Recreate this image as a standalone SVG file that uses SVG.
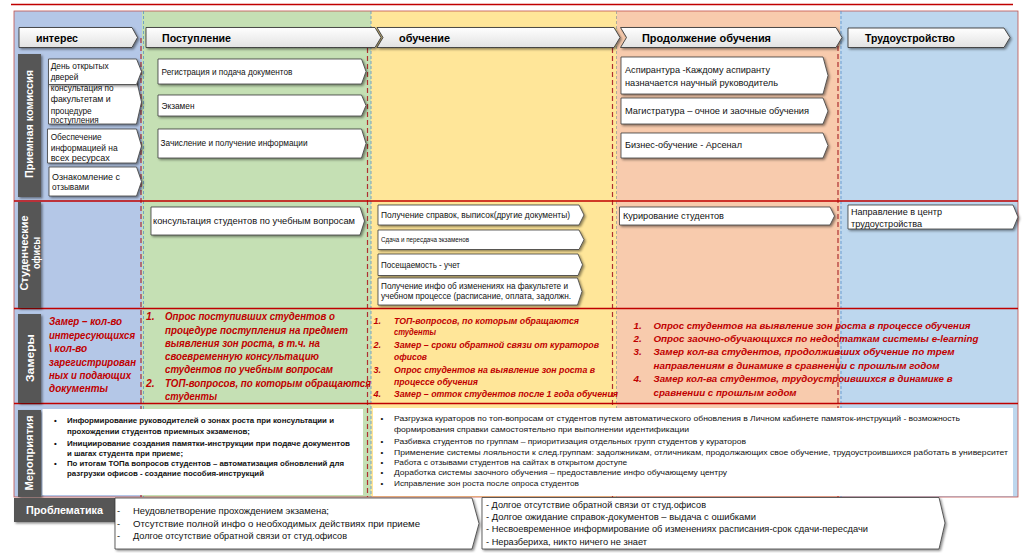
<svg xmlns="http://www.w3.org/2000/svg" width="1024" height="553" viewBox="0 0 1024 553">
<defs>
<style>
text{font-family:"Liberation Sans",Arial,sans-serif;fill:#111}
.hdr{font-weight:bold;font-size:11px;fill:#000}
.lbl{font-weight:bold;fill:#fff;text-anchor:middle}
.t1{font-size:8.3px}
.t4{font-size:9.2px}
.t2{font-size:9px}
.red{font-weight:bold;font-style:italic;fill:#C00000}
.m{font-size:8px}
.mb{font-size:7.8px;font-weight:bold}
.p1{font-size:9.3px}
.p2{font-size:8.8px}
.box{fill:#fff;stroke:#3a3a3a;stroke-width:0.8}
.hbox{fill:url(#hg);stroke:#3a3a3a;stroke-width:0.9}
.bar{fill:#575757}
.sep{stroke:#C00000;stroke-width:1.5}
.rd{stroke:#B03030;stroke-width:1.2;stroke-dasharray:5 3;fill:none}
.bd{stroke:#5B8FC8;stroke-width:0.8;stroke-dasharray:3 2;fill:none}
</style>
<filter id="sh" x="-10%" y="-20%" width="125%" height="160%"><feDropShadow dx="1.5" dy="1.5" stdDeviation="0.9" flood-color="#000" flood-opacity="0.45"/></filter>
<linearGradient id="hg" x1="0" y1="0" x2="0" y2="1"><stop offset="0" stop-color="#ffffff"/><stop offset="1" stop-color="#e2e2e2"/></linearGradient>
</defs>
<rect width="1024" height="553" fill="#fff"/>
<line x1="11" y1="4.5" x2="1013" y2="4.5" stroke="#C00000" stroke-width="1.5"/>

<g id="columns">
<rect x="14" y="11" width="128" height="486" fill="#B4C7E7"/>
<rect x="142" y="11" width="229" height="486" fill="#C5E0B4"/>
<rect x="371" y="11" width="246" height="486" fill="#FFE699"/>
<rect x="617" y="11" width="223" height="486" fill="#F8CBAD"/>
<rect x="840" y="11" width="178" height="486" fill="#BDD7EE"/>
<rect x="14" y="11" width="1004" height="486" fill="none" stroke="#C0504D" stroke-width="0.8"/>
</g>

<g id="dividers">
<line class="bd" x1="143.5" y1="11" x2="143.5" y2="497"/>
<line class="bd" x1="371" y1="11" x2="371" y2="497"/>
<line class="bd" x1="616.5" y1="11" x2="616.5" y2="497" style="stroke:#9a9a9a"/>
<line class="bd" x1="841" y1="11" x2="841" y2="497"/>
<line class="rd" x1="141" y1="38" x2="141" y2="497"/>
<line class="rd" x1="367.5" y1="48" x2="367.5" y2="497"/>
<line class="rd" x1="612.5" y1="48" x2="612.5" y2="497"/>
<line class="rd" x1="838" y1="38" x2="838" y2="497"/>
<line class="sep" x1="14" y1="201" x2="1018" y2="201"/>
<line class="sep" x1="14" y1="308.5" x2="1018" y2="308.5"/>
<line class="sep" x1="14" y1="403.5" x2="1018" y2="403.5"/>
</g>

<g id="headers">
<g id="h-interes"><path class="hbox" filter="url(#sh)" d="M19 27.5H132L137.5 37.5L132 47.5H19Z"/><text class="hdr" x="36" y="42" textLength="42" lengthAdjust="spacingAndGlyphs">интерес</text></g>
<g id="h-postuplenie"><path class="hbox" filter="url(#sh)" d="M146 27.5H375L381 37.5L375 47.5H146Z"/><text class="hdr" x="162" y="42" textLength="69" lengthAdjust="spacingAndGlyphs">Поступление</text></g>
<g id="h-obuchenie"><path class="hbox" filter="url(#sh)" d="M377 27.5H614L620 37.5L614 47.5H377L383 37.5Z"/><text class="hdr" x="399" y="42" textLength="51" lengthAdjust="spacingAndGlyphs">обучение</text></g>
<g id="h-prodolzhenie"><path class="hbox" filter="url(#sh)" d="M620.5 27.5H836L842 37.5L836 47.5H620.5L626.5 37.5Z"/><text class="hdr" x="642" y="42" textLength="129" lengthAdjust="spacingAndGlyphs">Продолжение обучения</text></g>
<g id="h-trud"><path class="hbox" filter="url(#sh)" d="M848 28H1004L1010 37.5L1004 47.5H848Z"/><text class="hdr" x="865" y="42" textLength="90" lengthAdjust="spacingAndGlyphs">Трудоустройство</text></g>
</g>

<g id="row-labels">
<rect class="bar" filter="url(#sh)" x="18" y="54" width="23" height="143"/>
<text class="lbl" style="font-size:10.5px" transform="translate(33,124) rotate(-90)" textLength="108" lengthAdjust="spacingAndGlyphs">Приемная комиссия</text>
<rect class="bar" filter="url(#sh)" x="18" y="202" width="23" height="106"/>
<text class="lbl" style="font-size:10.6px" transform="translate(28,253) rotate(-90)" textLength="75" lengthAdjust="spacingAndGlyphs">Студенческие</text>
<text class="lbl" style="font-size:10.6px" transform="translate(40,253) rotate(-90)" textLength="32" lengthAdjust="spacingAndGlyphs">офисы</text>
<rect class="bar" filter="url(#sh)" x="18" y="314" width="23" height="89"/>
<text class="lbl" style="font-size:11.5px" transform="translate(34,358) rotate(-90)" textLength="48" lengthAdjust="spacingAndGlyphs">Замеры</text>
<rect class="bar" filter="url(#sh)" x="18" y="410" width="23" height="87"/>
<text class="lbl" style="font-size:11px" transform="translate(33,453) rotate(-90)" textLength="75" lengthAdjust="spacingAndGlyphs">Мероприятия</text>
</g>

<g id="node-konsult">
<path class="box" filter="url(#sh)" d="M48.5 80H136.5L141.5 102L136.5 124H48.5Z"/>
<text class="t1" x="50.7" y="90.5" textLength="63" lengthAdjust="spacingAndGlyphs">консультация по</text>
<text class="t1" x="50.7" y="102" textLength="60" lengthAdjust="spacingAndGlyphs">факультетам и</text>
<text class="t1" x="50.7" y="113.5" textLength="41" lengthAdjust="spacingAndGlyphs">процедуре</text>
<text class="t1" x="50.7" y="123" textLength="48" lengthAdjust="spacingAndGlyphs">поступления</text>
</g>
<g id="node-den">
<path class="box" filter="url(#sh)" d="M48.5 59H136.5L141.5 71.5L136.5 84.5H48.5Z"/>
<text class="t1" x="50.7" y="68.5" textLength="58" lengthAdjust="spacingAndGlyphs">День открытых</text>
<text class="t1" x="50.7" y="79.5">дверей</text>
</g>
<g id="node-obesp">
<path class="box" filter="url(#sh)" d="M47.5 129H136.5L141.5 146L136.5 163H47.5Z"/>
<text class="t1" x="50.7" y="139.5" textLength="51" lengthAdjust="spacingAndGlyphs">Обеспечение</text>
<text class="t1" x="50.7" y="150.5" textLength="67" lengthAdjust="spacingAndGlyphs">информацией на</text>
<text class="t1" x="50.7" y="161" textLength="59" lengthAdjust="spacingAndGlyphs">всех ресурсах</text>
</g>
<g id="node-oznak">
<path class="box" filter="url(#sh)" d="M49 167H136.5L141.5 181.5L136.5 196H49Z"/>
<text class="t1" x="52" y="179.5" textLength="68" lengthAdjust="spacingAndGlyphs">Ознакомление с</text>
<text class="t1" x="52" y="189.5" textLength="37" lengthAdjust="spacingAndGlyphs">отзывами</text>
</g>

<g id="node-reg">
<path class="box" filter="url(#sh)" d="M158 59H361.5L366 71.5L361.5 84H158Z"/>
<text class="t1" x="161.5" y="74.5" textLength="131" lengthAdjust="spacingAndGlyphs">Регистрация и подача документов</text>
</g>
<g id="node-exam">
<path class="box" filter="url(#sh)" d="M158 95H361.5L366 105.5L361.5 116H158Z"/>
<text class="t1" x="161.5" y="108.5">Экзамен</text>
</g>
<g id="node-zach">
<path class="box" filter="url(#sh)" d="M158 129H361.5L366 143.5L361.5 158H158Z"/>
<text class="t1" x="160.5" y="146" textLength="147" lengthAdjust="spacingAndGlyphs">Зачисление и получение информации</text>
</g>

<g id="node-asp">
<path class="box" filter="url(#sh)" d="M621 57H823L828 75.5L823 94H621Z"/>
<text class="t4" x="625" y="73" textLength="145" lengthAdjust="spacingAndGlyphs">Аспирантура -Каждому аспиранту</text>
<text class="t4" x="625" y="85.5" textLength="153" lengthAdjust="spacingAndGlyphs">назначается научный руководитель</text>
</g>
<g id="node-mag">
<path class="box" filter="url(#sh)" d="M621 98H823L828 111L823 124H621Z"/>
<text class="t4" x="625" y="114" textLength="184" lengthAdjust="spacingAndGlyphs">Магистратура – очное и заочные обучения</text>
</g>
<g id="node-biz">
<path class="box" filter="url(#sh)" d="M621 133H823L828 145.5L823 158H621Z"/>
<text class="t4" x="625" y="148" textLength="117" lengthAdjust="spacingAndGlyphs">Бизнес-обучение - Арсенал</text>
</g>

<g id="node-konsult2">
<path class="box" filter="url(#sh)" d="M151 207H360L364.5 221L360 235H151Z"/>
<text class="t2" x="153" y="224" textLength="202" lengthAdjust="spacingAndGlyphs">консультация студентов по учебным вопросам</text>
</g>
<g id="node-sprav">
<path class="box" filter="url(#sh)" d="M378 205H579L584 215L579 225H378Z"/>
<text class="t2" x="381" y="218" textLength="189" lengthAdjust="spacingAndGlyphs">Получение справок, выписок(другие документы)</text>
</g>
<g id="node-sdacha">
<path class="box" filter="url(#sh)" d="M378 230H579L584 239.75L579 249.5H378Z"/>
<text class="t2" style="font-size:7.4px" x="381" y="242" textLength="88" lengthAdjust="spacingAndGlyphs">Сдача и пересдача экзаменов</text>
</g>
<g id="node-poseshch">
<path class="box" filter="url(#sh)" d="M378 254H578L582.5 264.75L578 275.5H378Z"/>
<text class="t2" x="381" y="268" textLength="79" lengthAdjust="spacingAndGlyphs">Посещаемость - учет</text>
</g>
<g id="node-info">
<path class="box" filter="url(#sh)" d="M378 278H577.5L582 291.5L577.5 305H378Z"/>
<text class="t2" x="381" y="288.5" textLength="187" lengthAdjust="spacingAndGlyphs">Получение инфо об изменениях на факультете и</text>
<text class="t2" x="381" y="298.5" textLength="190" lengthAdjust="spacingAndGlyphs">учебном процессе (расписание, оплата, задолжн.</text>
</g>
<g id="node-kur">
<path class="box" filter="url(#sh)" d="M619.5 207H830L834.5 216L830 225H619.5Z"/>
<text class="t2" x="623" y="218.5" textLength="101" lengthAdjust="spacingAndGlyphs">Курирование студентов</text>
</g>
<g id="node-napr">
<path class="box" filter="url(#sh)" d="M848 205H1013L1018 217L1013 229H848Z"/>
<text class="t2" x="851" y="214.5" textLength="91" lengthAdjust="spacingAndGlyphs">Направление в центр</text>
<text class="t2" x="851" y="227" textLength="71" lengthAdjust="spacingAndGlyphs">трудоустройства</text>
</g>

<g id="zamery-1" style="font-size:10px">
<text class="red" x="49" y="325" textLength="73" lengthAdjust="spacingAndGlyphs">Замер – кол-во</text>
<text class="red" x="49" y="339" textLength="86" lengthAdjust="spacingAndGlyphs">интересующихся</text>
<text class="red" x="49" y="352">\ кол-во</text>
<text class="red" x="49" y="366" textLength="87" lengthAdjust="spacingAndGlyphs">зарегистрирован</text>
<text class="red" x="49" y="379" textLength="82" lengthAdjust="spacingAndGlyphs">ных и подающих</text>
<text class="red" x="49" y="392" textLength="59" lengthAdjust="spacingAndGlyphs">документы</text>
</g>
<g id="zamery-2" style="font-size:10.3px">
<text class="red" x="146" y="320">1.</text>
<text class="red" x="165" y="320" textLength="170" lengthAdjust="spacingAndGlyphs">Опрос поступивших студентов о</text>
<text class="red" x="165" y="333.5" textLength="183" lengthAdjust="spacingAndGlyphs">процедуре поступления на предмет</text>
<text class="red" x="165" y="347" textLength="155" lengthAdjust="spacingAndGlyphs">выявления зон роста, в т.ч. на</text>
<text class="red" x="165" y="360" textLength="154" lengthAdjust="spacingAndGlyphs">своевременную консультацию</text>
<text class="red" x="165" y="373" textLength="168" lengthAdjust="spacingAndGlyphs">студентов по учебным вопросам</text>
<text class="red" x="146" y="387">2.</text>
<text class="red" x="165" y="387" textLength="206" lengthAdjust="spacingAndGlyphs">ТОП-вопросов, по которым обращаются</text>
<text class="red" x="165" y="400" textLength="52" lengthAdjust="spacingAndGlyphs">студенты</text>
</g>
<g id="zamery-3" style="font-size:9px">
<text class="red" x="373.5" y="324">1.</text>
<text class="red" x="394" y="324" textLength="185" lengthAdjust="spacingAndGlyphs">ТОП-вопросов, по которым обращаются</text>
<text class="red" x="394" y="335" textLength="42" lengthAdjust="spacingAndGlyphs">студенты</text>
<text class="red" x="373.5" y="348">2.</text>
<text class="red" x="394" y="348" textLength="205" lengthAdjust="spacingAndGlyphs">Замер – сроки обратной связи от кураторов</text>
<text class="red" x="394" y="360" textLength="33" lengthAdjust="spacingAndGlyphs">офисов</text>
<text class="red" x="373.5" y="373">3.</text>
<text class="red" x="394" y="373" textLength="201" lengthAdjust="spacingAndGlyphs">Опрос студентов на выявление зон роста в</text>
<text class="red" x="394" y="385" textLength="84" lengthAdjust="spacingAndGlyphs">процессе обучения</text>
<text class="red" x="373.5" y="397">4.</text>
<text class="red" x="394" y="397" textLength="224" lengthAdjust="spacingAndGlyphs">Замер – отток студентов после 1 года обучения</text>
</g>
<g id="zamery-4" style="font-size:9.8px">
<text class="red" x="633.5" y="329">1.</text>
<text class="red" x="653.5" y="329" textLength="317" lengthAdjust="spacingAndGlyphs">Опрос студентов на выявление зон роста в процессе обучения</text>
<text class="red" x="633.5" y="341.5">2.</text>
<text class="red" x="653.5" y="341.5" textLength="325" lengthAdjust="spacingAndGlyphs">Опрос заочно-обучающихся по недостаткам системы e-learning</text>
<text class="red" x="633.5" y="355">3.</text>
<text class="red" x="653.5" y="355" textLength="301" lengthAdjust="spacingAndGlyphs">Замер кол-ва студентов, продолживших обучение по трем</text>
<text class="red" x="653.5" y="369" textLength="286" lengthAdjust="spacingAndGlyphs">направлениям в динамике в сравнении с прошлым годом</text>
<text class="red" x="633.5" y="382">4.</text>
<text class="red" x="653.5" y="382" textLength="299" lengthAdjust="spacingAndGlyphs">Замер кол-ва студентов, трудоустроившихся в динамике в</text>
<text class="red" x="653.5" y="395.5" textLength="143" lengthAdjust="spacingAndGlyphs">сравнении с прошлым годом</text>
</g>

<g id="meropr-1">
<rect x="42.5" y="409" width="320.5" height="86" fill="#fff"/>
<text class="mb" x="54" y="423">•</text>
<text class="mb" x="67" y="423" textLength="267" lengthAdjust="spacingAndGlyphs">Информирование руководителей о зонах роста при консультации и</text>
<text class="mb" x="67" y="434" textLength="183" lengthAdjust="spacingAndGlyphs">прохождении студентов приемных  экзаменов;</text>
<text class="mb" x="54" y="446">•</text>
<text class="mb" x="67" y="446" textLength="283" lengthAdjust="spacingAndGlyphs">Инициирование создания памятки-инструкции при подаче документов</text>
<text class="mb" x="67" y="456" textLength="116" lengthAdjust="spacingAndGlyphs">и шагах студента при приеме;</text>
<text class="mb" x="54" y="466">•</text>
<text class="mb" x="67" y="466" textLength="277" lengthAdjust="spacingAndGlyphs">По итогам ТОПа вопросов студентов – автоматизация обновлений для</text>
<text class="mb" x="67" y="476" textLength="197" lengthAdjust="spacingAndGlyphs">разгрузки офисов - создание пособия-инструкций</text>
</g>
<g id="meropr-2">
<rect x="373" y="408" width="640" height="88" fill="#fff"/>
<text class="m" x="380.5" y="421">•</text>
<text class="m" x="394" y="421" textLength="566" lengthAdjust="spacingAndGlyphs">Разгрузка кураторов по топ-вопросам от студентов путем автоматического обновления в Личном кабинете памяток-инструкций - возможность</text>
<text class="m" x="394" y="432" textLength="295" lengthAdjust="spacingAndGlyphs">формирования справки самостоятельно при выполнении идентификации</text>
<text class="m" x="380.5" y="444">•</text>
<text class="m" x="394" y="444" textLength="352" lengthAdjust="spacingAndGlyphs">Разбивка студентов по группам – приоритизация отдельных групп студентов у кураторов</text>
<text class="m" x="380.5" y="455">•</text>
<text class="m" x="394" y="455" textLength="614" lengthAdjust="spacingAndGlyphs">Применение системы лояльности к след.группам:  задолжникам,  отличникам, продолжающих свое обучение, трудоустроившихся работать в университет</text>
<text class="m" x="380.5" y="465">•</text>
<text class="m" x="394" y="465" textLength="233" lengthAdjust="spacingAndGlyphs">Работа с отзывами студентов на сайтах в открытом доступе</text>
<text class="m" x="380.5" y="475">•</text>
<text class="m" x="394" y="475" textLength="333" lengthAdjust="spacingAndGlyphs">Доработка системы заочного обучения – предоставление инфо обучающему центру</text>
<text class="m" x="380.5" y="486">•</text>
<text class="m" x="394" y="486" textLength="185" lengthAdjust="spacingAndGlyphs">Исправление зон роста после опроса студентов</text>
</g>

<g id="problem-label">
<rect class="bar" filter="url(#sh)" x="14" y="498" width="101" height="24"/>
<text class="hdr" style="fill:#fff" x="26" y="514" textLength="77" lengthAdjust="spacingAndGlyphs">Проблематика</text>
</g>
<g id="problem-1">
<path class="box" filter="url(#sh)" d="M115 498H472L479 523.5L472 549H115Z"/>
<text class="p1" x="117" y="514">-</text>
<text class="p1" x="133" y="514" textLength="196" lengthAdjust="spacingAndGlyphs">Неудовлетворение прохождением экзамена;</text>
<text class="p1" x="117" y="527">-</text>
<text class="p1" x="133" y="527" textLength="287" lengthAdjust="spacingAndGlyphs">Отсутствие полной инфо о необходимых действиях  при приеме</text>
<text class="p1" x="117" y="539">-</text>
<text class="p1" x="133" y="539" textLength="214" lengthAdjust="spacingAndGlyphs">Долгое отсутствие обратной связи от студ.офисов</text>
</g>
<g id="problem-2">
<path class="box" filter="url(#sh)" d="M482 497.5H939L945 523L939 549H482Z"/>
<text class="p2" x="486" y="508" textLength="220" lengthAdjust="spacingAndGlyphs">- Долгое отсутствие обратной связи от студ.офисов</text>
<text class="p2" x="486" y="520" textLength="270" lengthAdjust="spacingAndGlyphs">- Долгое ожидание справок-документов – выдача с ошибками</text>
<text class="p2" x="486" y="532" textLength="382" lengthAdjust="spacingAndGlyphs">- Несвоевременное информирование об изменениях расписания-срок сдачи-пересдачи</text>
<text class="p2" x="486" y="545" textLength="161" lengthAdjust="spacingAndGlyphs">- Неразбериха, никто ничего не знает</text>
</g>
</svg>
